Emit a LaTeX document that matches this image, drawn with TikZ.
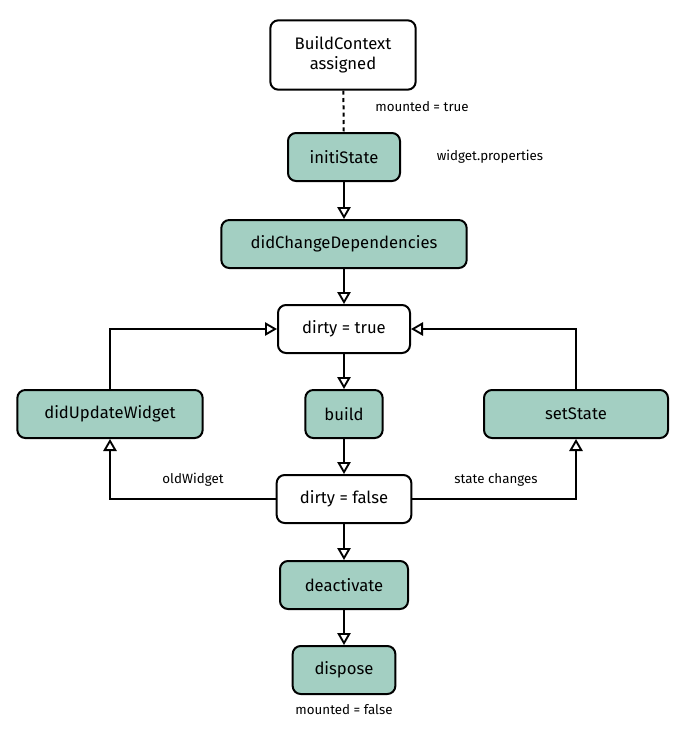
\documentclass[tikz,border=0pt]{standalone}
\usepackage{fontspec}
\setmainfont{Fira Sans}
\usetikzlibrary{arrows.meta}
\definecolor{stategreen}{HTML}{A3CFC2}
\begin{document}
\begin{tikzpicture}[x=0.75pt,y=-0.75pt,
    box/.style = {draw, line width=1.5pt, rounded corners=6pt, minimum height=36pt, font=\fontsize{12.5}{15}\selectfont, align=center},
    stage/.style = {box, fill=stategreen},
    flow/.style = {draw, line width=1.4pt, -{Triangle[open, length=9pt, width=10pt]}},
    note/.style = {font=\fontsize{10}{12}\selectfont}]
    \useasboundingbox (0,0) rectangle (687,750);
    \node[box, minimum width=109pt, minimum height=52pt] (ctx) at (343,55) {BuildContext\\assigned};
    \node[stage, minimum width=84pt] (init) at (344,157) {initiState};
    \node[stage, minimum width=184pt] (deps) at (344,244) {didChangeDependencies};
    \node[box, minimum width=99pt] (dirtyT) at (344,329) {dirty = true};
    \node[stage, minimum width=58pt] (build) at (344,414) {build};
    \node[box, minimum width=101pt] (dirtyF) at (344,499) {dirty = false};
    \node[stage, minimum width=96pt] (deact) at (344,585) {deactivate};
    \node[stage, minimum width=77pt] (disp) at (344,670) {dispose};
    \node[stage, minimum width=139pt] (upd) at (110,414) {didUpdateWidget};
    \node[stage, minimum width=138pt] (set) at (576,414) {setState};
    % labels
    \node[note] (mt) at (422,107) {mounted = true};
    \node[note] (wp) at (490,157) {widget.properties};
    \node[note] (mf) at (344,710) {mounted = false};
    \node[note] (ow) at (193,480) {oldWidget};
    \node[note] (sc) at (496,480) {state changes};
    % connectors
    \draw[line width=1.5pt, dash pattern=on 3pt off 2.5pt] (ctx) -- (init);
    \draw[flow] (init) -- (deps);
    \draw[flow] (deps) -- (dirtyT);
    \draw[flow] (dirtyT) -- (build);
    \draw[flow] (build) -- (dirtyF);
    \draw[flow] (dirtyF) -- (deact);
    \draw[flow] (deact) -- (disp);
    \draw[flow] (upd.north) |- (dirtyT.west);
    \draw[flow] (set.north) |- (dirtyT.east);
    \draw[flow] (dirtyF.west) -| (upd.south);
    \draw[flow] (dirtyF.east) -| (set.south);
\end{tikzpicture}
\end{document}
